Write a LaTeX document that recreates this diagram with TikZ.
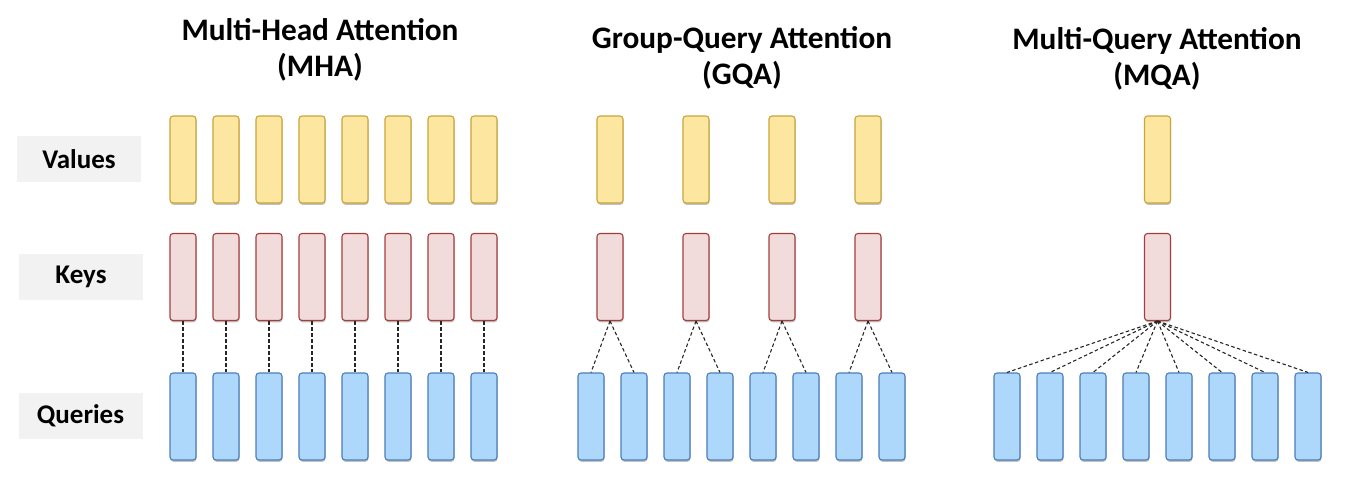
\documentclass[tikz,border=0pt]{standalone}
\usepackage{fontspec}
\setmainfont{Carlito}
\usetikzlibrary{shadows}
\definecolor{valfill}{HTML}{FCE6A0}
\definecolor{valdraw}{HTML}{C9A53A}
\definecolor{keyfill}{HTML}{F2DCDB}
\definecolor{keydraw}{HTML}{A33E3E}
\definecolor{qfill}{HTML}{AED8FB}
\definecolor{qdraw}{HTML}{4A7DBA}
\definecolor{labfill}{HTML}{F2F2F2}
\begin{document}
\begin{tikzpicture}[x=1pt,y=-1pt,
  cell/.style={minimum width=26pt,minimum height=87pt,inner sep=0pt,rounded corners=3pt,line width=1.1pt,
    drop shadow={shadow xshift=0.5pt,shadow yshift=-1.8pt,opacity=0.35,fill=black!70}},
  vcell/.style={cell,draw=valdraw,fill=valfill},
  kcell/.style={cell,draw=keydraw,fill=keyfill},
  qcell/.style={cell,draw=qdraw,fill=qfill},
  rowlab/.style={fill=labfill,minimum width=124pt,minimum height=46pt,inner sep=0pt,font=\fontsize{27}{31}\selectfont\bfseries},
  ttl/.style={align=center,font=\fontsize{31.3}{36}\selectfont\bfseries,inner sep=0pt},
  link/.style={dash pattern=on 3.5pt off 2.5pt,line width=1.1pt,black!85}]
\useasboundingbox (0,0) rectangle (1358,491);
% row labels
\node[rowlab] (lv) at (79,159) {Values};
\node[rowlab] (lk) at (81,277) {Keys};
\node[rowlab] (lq) at (80.5,415.5) {Queries};
% titles
\node[ttl] (t1) at (320,49.5) {Multi-Head Attention\\(MHA)};
\node[ttl] (t2) at (742,57.5) {Group-Query Attention\\(GQA)};
\node[ttl] (t3) at (1157,59) {Multi-Query Attention\\(MQA)};
% MHA
\foreach \i in {0,...,7}{
  \node[vcell] (mv\i) at ({183+43*\i},159.5) {};
  \node[kcell] (mk\i) at ({183+43*\i},277) {};
  \node[qcell] (mq\i) at ({183+43*\i},416.5) {};
  \draw[link] (mk\i.south) -- (mq\i.north);
}
% GQA
\foreach \g in {0,...,3}{
  \node[vcell] (gv\g) at ({610+86*\g},159.5) {};
  \node[kcell] (gk\g) at ({610+86*\g},277) {};
}
\foreach \i in {0,...,7}{
  \pgfmathtruncatemacro{\g}{int(\i/2)}
  \node[qcell] (gq\i) at ({591+43*\i},416.5) {};
  \draw[link] (gk\g.south) -- (gq\i.north);
}
% MQA
\node[vcell] (qv) at (1157.5,159.5) {};
\node[kcell] (qk) at (1157.5,277) {};
\foreach \i in {0,...,7}{
  \node[qcell] (qq\i) at ({1007+43*\i},416.5) {};
  \draw[link] (qk.south) -- (qq\i.north);
}
\end{tikzpicture}
\end{document}
